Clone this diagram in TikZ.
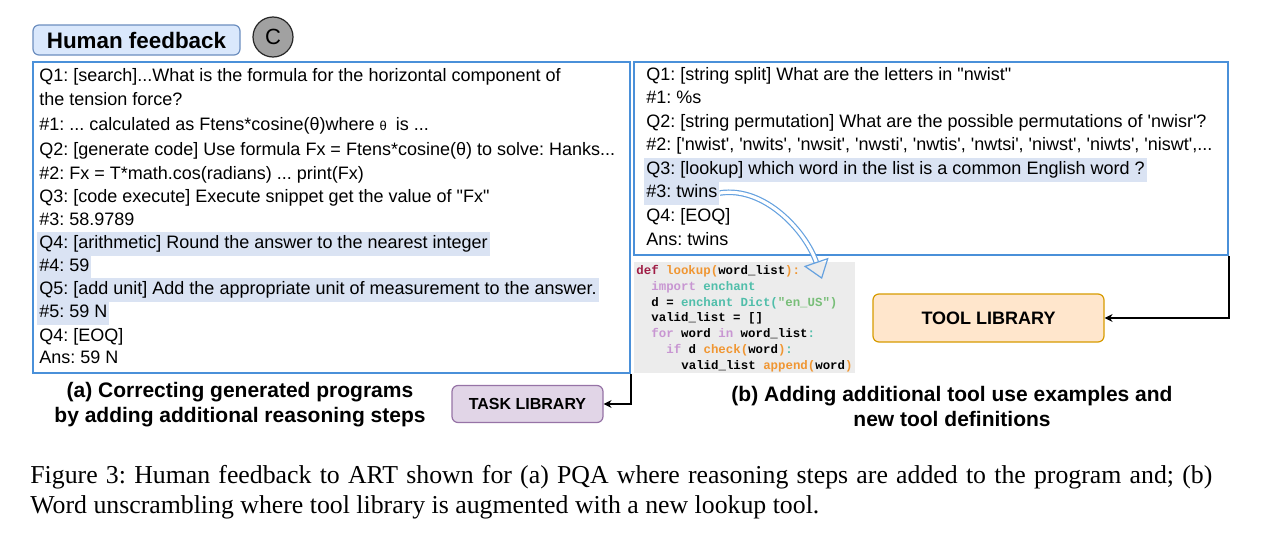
\documentclass[tikz,border=0pt]{standalone}
\usepackage{fontspec}
\setmainfont{Liberation Sans}
\newfontfamily\capfont{Liberation Serif}
\newfontfamily\codefont{Liberation Mono}
\usetikzlibrary{arrows.meta,fit}
\frenchspacing

\definecolor{panelblue}{RGB}{74,144,217}
\definecolor{hlblue}{RGB}{218,227,243}
\definecolor{hffill}{RGB}{218,232,252}
\definecolor{hfdraw}{RGB}{108,142,191}
\definecolor{codebg}{RGB}{236,236,236}
\definecolor{taskfill}{RGB}{225,213,231}
\definecolor{taskdraw}{RGB}{150,115,166}
\definecolor{toolfill}{RGB}{255,230,204}
\definecolor{tooldraw}{RGB}{215,155,0}
\definecolor{cdef}{RGB}{160,30,70}
\definecolor{cfun}{RGB}{240,150,50}
\definecolor{ckw}{RGB}{200,150,210}
\definecolor{cmod}{RGB}{80,190,170}
\definecolor{cstr}{RGB}{120,190,120}

\newcommand\sq{\textquotesingle}
\newcommand\dq{\textquotedbl}
\newcommand\ckw[1]{\textcolor{ckw}{#1}}
\newcommand\cfn[1]{\textcolor{cfun}{#1}}
\newcommand\cmd[1]{\textcolor{cmod}{#1}}

\begin{document}
\begin{tikzpicture}[
    x=0.5pt, y=-0.5pt,
    panel/.style={draw=panelblue, line width=1pt, inner sep=0pt},
    ln/.style={anchor=west, inner xsep=1pt, inner ysep=1.5pt,
        text height=6.7pt, text depth=2pt, font=\fontsize{9}{10}\selectfont},
    hl/.style={ln, fill=hlblue},
    codeln/.style={anchor=west, inner sep=0pt,
        font=\codefont\bfseries\fontsize{6.2}{7}\selectfont},
    libbox/.style={rounded corners=3pt, font=\bfseries, line width=0.6pt},
    subcap/.style={align=center, font=\bfseries\fontsize{10.5}{12.5}\selectfont},
    figcap/.style={anchor=west, inner sep=0pt, font=\capfont\fontsize{12.9}{15}\selectfont},
    conn/.style={-{Stealth[length=4pt, width=4pt]}, line width=1pt},
    twin/.style={draw=panelblue!85, double=white, double distance=1.6pt,
        line width=0.6pt, -{Triangle[open, length=9pt, width=13pt]}},
]
    \useasboundingbox (0,0) rectangle (1271,546);

    % ---------- header ----------
    \node[draw=hfdraw, fill=hffill, rounded corners=3pt, line width=0.6pt,
        minimum width=103.5pt, minimum height=15pt,
        font=\bfseries\fontsize{11.2}{13}\selectfont] (human) at (136.5,40) {Human feedback};
    \node[circle, draw=black!85, fill=black!37, line width=0.6pt, minimum size=20pt,
        inner sep=0pt, font=\fontsize{11}{13}\selectfont] (mark) at (273,37) {C};

    % ---------- (a) program panel ----------
    \node[panel, fit={(33,62) (630,373)}] (leftbox) {};
    \node[ln] (l1) at (37,77) {Q1: [search]...What is the formula for the horizontal component of};
    \node[ln] (l2) at (37,101) {the tension force?};
    \node[ln] (l3) at (37,126) {\#1: ... calculated as Ftens*cosine(θ)where {\fontsize{6.5}{7}\selectfont θ}\enspace is ...};
    \node[ln] (l4) at (37,151) {Q2: [generate code] Use formula Fx = Ftens*cosine(θ) to solve: Hanks...};
    \node[ln] (l5) at (37,175) {\#2: Fx = T*math.cos(radians) ... print(Fx)};
    \node[ln] (l6) at (37,198) {Q3: [code execute] Execute snippet get the value of \dq Fx\dq};
    \node[ln] (l7) at (37,221) {\#3: 58.9789};
    \node[hl] (l8) at (37,244) {Q4: [arithmetic] Round the answer to the nearest integer};
    \node[hl] (l9) at (37,267) {\#4: 59};
    \node[hl] (l10) at (37,290) {Q5: [add unit] Add the appropriate unit of measurement to the answer.};
    \node[hl] (l11) at (37,313) {\#5: 59 N};
    \node[ln] (l12) at (37,337) {Q4: [EOQ]};
    \node[ln] (l13) at (37,359) {Ans: 59 N};

    % ---------- (b) tool panel ----------
    \node[panel, fit={(634,62) (1228,255)}] (rightbox) {};
    \node[ln] (r1) at (644,76) {Q1: [string split] What are the letters in \dq nwist\dq};
    \node[ln] (r2) at (644,99) {\#1: \%s};
    \node[ln] (r3) at (644,123) {Q2: [string permutation] What are the possible permutations of \sq nwisr\sq?};
    \node[ln] (r4) at (644,146) {\#2: [\sq nwist\sq, \sq nwits\sq, \sq nwsit\sq, \sq nwsti\sq, \sq nwtis\sq, \sq nwtsi\sq, \sq niwst\sq, \sq niwts\sq, \sq niswt\sq,...};
    \node[hl] (r5) at (644,170) {Q3: [lookup] which word in the list is a common English word ?};
    \node[hl] (r6) at (644,193) {\#3: twins};
    \node[ln] (r7) at (644,217) {Q4: [EOQ]};
    \node[ln] (r8) at (644,241) {Ans: twins};

    % ---------- new tool definition ----------
    \node[fill=codebg, inner sep=0pt, fit={(634,262) (855,373)}] (codebox) {};
    \node[codeln] (c1) at (636,271) {\textcolor{cdef}{def} \cfn{lookup(}word\_list\cfn{):}};
    \node[codeln] (c2) at (651,287) {\ckw{import} \cmd{enchant}};
    \node[codeln] (c3) at (651,303) {d = \cmd{enchant Dict(}\textcolor{cstr}{\dq en\_US\dq)}};
    \node[codeln] (c4) at (651,318) {valid\_list = []};
    \node[codeln] (c5) at (651,334) {\ckw{for} word \ckw{in} word\_list\cmd{:}};
    \node[codeln] (c6) at (666,350) {\ckw{if} d \cfn{check(}word\cfn{)}\cmd{:}};
    \node[codeln] (c7) at (681,366) {valid\_list \cfn{append(}word\cfn{)}};
    \coordinate (lookuptip) at (822,279);

    \draw[twin] (r6.east) .. controls (765,186) and (806,232) .. (lookuptip);

    % ---------- libraries ----------
    \node[libbox, draw=taskdraw, fill=taskfill, minimum width=75.5pt, minimum height=18.5pt,
        font=\bfseries\fontsize{8}{10}\selectfont] (tasklib) at (527.5,404) {TASK LIBRARY};
    \node[libbox, draw=tooldraw, fill=toolfill, minimum width=115.5pt, minimum height=24pt,
        font=\bfseries\fontsize{9}{11}\selectfont] (toollib) at (988.5,318) {TOOL LIBRARY};

    \draw[conn] (leftbox.south east) |- (tasklib.east);
    \draw[conn] (rightbox.south east) |- (toollib.east);

    % ---------- sub-captions ----------
    \node[subcap] (capa) at (240,405) {(a) Correcting generated programs\\by adding additional reasoning steps};
    \node[subcap] (capb) at (952,406) {(b) Adding additional tool use examples and\\new tool definitions};

    % ---------- figure caption ----------
    \node[figcap] (fig1) at (30,477)
        {\makebox[591pt][s]{Figure 3: Human feedback to ART shown for (a) PQA where reasoning steps are added to the program and; (b)}};
    \node[figcap] (fig2) at (30,507)
        {Word unscrambling where tool library is augmented with a new lookup tool.};
\end{tikzpicture}
\end{document}
